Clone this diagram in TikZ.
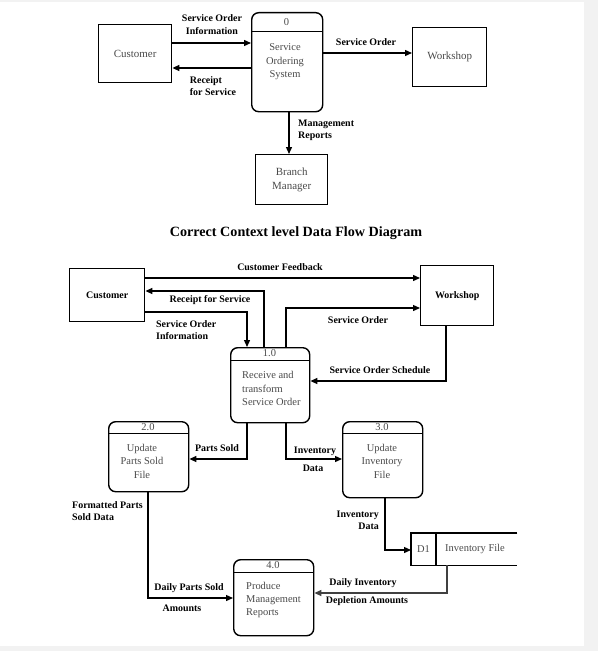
\documentclass[tikz,border=0pt]{standalone}
\usepackage{fontspec}
\setmainfont{Liberation Serif}
\usetikzlibrary{arrows.meta}
\definecolor{bgray}{HTML}{F2F2F2}
\definecolor{tgray}{HTML}{4A4A4A}
\tikzset{
  ent/.style={draw, line width=1.4bp, inner sep=0pt, anchor=north west, align=center},
  entt/.style={ent, text=tgray, font=\fontsize{11}{13.5}\selectfont},
  entb/.style={ent, font=\bfseries\fontsize{10}{12}\selectfont},
  proc/.style={draw, line width=1.4bp, rounded corners=7bp, inner sep=0pt, anchor=north west},
  divl/.style={line width=0.9bp},
  num/.style={inner sep=0pt, font=\fontsize{10.5}{12}\selectfont, text=tgray},
  ptext/.style={inner sep=0pt, font=\fontsize{10.5}{13.5}\selectfont, text=tgray},
  lbl/.style={inner sep=0pt, font=\bfseries\fontsize{10}{12.5}\selectfont, align=center},
  flow/.style={line width=1.3bp, -{Triangle[length=7bp,width=6bp]}},
}
\begin{document}
\begin{tikzpicture}[x=1bp,y=-1bp]
\fill[bgray] (0,0) rectangle (598,651);
\fill[white] (0,2) rectangle (584,646);
\useasboundingbox (0,0) rectangle (598,651);

% ---------- Context diagram ----------
\node[entt, minimum width=73bp, minimum height=58bp] (c1) at (98,24) {Customer};
\node[proc, minimum width=71bp, minimum height=99bp] (p0) at (251,12) {};
\draw[divl] ([yshift=-19bp]p0.north west) -- ([yshift=-19bp]p0.north east);
\node[num] (p0n) at (286.5,22) {0};
\node[ptext, align=center] (p0t) at (285,62) {Service\\Ordering\\System};
\node[entt, minimum width=74bp, minimum height=59bp] (w1) at (412,27) {Workshop};
\node[entt, minimum width=72bp, minimum height=50bp] (bm) at (255,154) {Branch\\Manager};

\draw[flow] (c1.east |- 0,43) -- (p0.west |- 0,43);
\draw[flow] (p0.west |- 0,68) -- (c1.east |- 0,68);
\draw[flow] (p0.east |- 0,53) -- (w1.west |- 0,53);
\draw[flow] (p0.south -| 289,0) -- (bm.north -| 289,0);

\node[lbl] (l1) at (212,24.5) {Service Order\\Information};
\node[lbl, align=left] (l2) at (213,86) {Receipt\\for Service};
\node[lbl] (l3) at (366,42) {Service Order};
\node[lbl, align=left, anchor=west] (l4) at (298,130.5) {Management\\Reports};

\node[inner sep=0pt, font=\bfseries\fontsize{14.2}{16}\selectfont] (title) at (296,233) {Correct Context level Data Flow Diagram};

% ---------- Level 1 diagram ----------
\node[entb, minimum width=75bp, minimum height=53bp] (c2) at (69,268) {Customer};
\node[entb, minimum width=73bp, minimum height=60bp] (w2) at (420,265) {Workshop};

\node[proc, minimum width=79bp, minimum height=75bp] (p1) at (230,347) {};
\draw[divl] ([yshift=-13bp]p1.north west) -- ([yshift=-13bp]p1.north east);
\node[num] (p1n) at (269.5,353.5) {1.0};
\node[ptext, align=left, anchor=west] (p1t) at (242,388.5) {Receive and\\transform\\Service Order};

\node[proc, minimum width=80bp, minimum height=70bp] (p2) at (108,421) {};
\draw[divl] ([yshift=-12bp]p2.north west) -- ([yshift=-12bp]p2.north east);
\node[num] (p2n) at (148,427) {2.0};
\node[ptext, align=center] (p2t) at (142,461) {Update\\Parts Sold\\File};

\node[proc, minimum width=80bp, minimum height=76bp] (p3) at (342,421) {};
\draw[divl] ([yshift=-12bp]p3.north west) -- ([yshift=-12bp]p3.north east);
\node[num] (p3n) at (382,427) {3.0};
\node[ptext, align=center] (p3t) at (382,461) {Update\\Inventory\\File};

\node[proc, minimum width=80bp, minimum height=76bp] (p4) at (233,559) {};
\draw[divl] ([yshift=-13bp]p4.north west) -- ([yshift=-13bp]p4.north east);
\node[num] (p4n) at (273,565.5) {4.0};
\node[ptext, align=left, anchor=west] (p4t) at (246,600) {Produce\\Management\\Reports};

% data store
\node[inner sep=0pt, minimum width=106bp, minimum height=32bp, anchor=north west] (d1) at (411,533) {};
\draw[line width=1.4bp] (d1.north east) -- (d1.north west) -- (d1.south west) -- (d1.south east);
\draw[line width=1.2bp] (d1.north west -| 436,0) -- (d1.south west -| 436,0);
\node[num] (d1a) at (423.5,549) {D1};
\node[num] (d1b) at (475,548.5) {Inventory File};

% flows
\draw[flow] (c2.east |- 0,278) -- (w2.west |- 0,278);
\draw[flow] (p1.north -| 264,0) |- (c2.east |- 0,291);
\draw[flow] (c2.east |- 0,312) -| (p1.north -| 247,0);
\draw[flow] (p1.north -| 286,0) |- (w2.west |- 0,308);
\draw[flow] (w2.south -| 446,0) |- (p1.east |- 0,381);
\draw[flow] (p1.south -| 247,0) |- (p2.east |- 0,459);
\draw[flow] (p1.south -| 286,0) |- (p3.west |- 0,459);
\draw[flow] (p3.south -| 385,0) |- (d1.west |- 0,550);
\draw[flow] (p2.south -| 148,0) |- (p4.west |- 0,598);
\draw[flow, draw=black!75] (d1.south -| 447,0) |- (p4.east |- 0,593);

% labels
\node[lbl] (m1) at (280,267) {Customer Feedback};
\node[lbl] (m2) at (210,300) {Receipt for Service};
\node[lbl, align=left, anchor=west] (m3) at (156,330) {Service Order\\Information};
\node[lbl] (m4) at (358,320) {Service Order};
\node[lbl] (m5) at (380,370) {Service Order Schedule};
\node[lbl] (m6) at (217,448) {Parts Sold};
\node[lbl] (m7) at (315,451) {Inventory};
\node[lbl] (m8) at (313,468) {Data};
\node[lbl, align=right, anchor=east] (m9) at (379,520.5) {Inventory\\Data};
\node[lbl, align=left, anchor=west] (m10) at (72,511) {Formatted Parts\\Sold Data};
\node[lbl] (m11) at (189,588) {Daily Parts Sold};
\node[lbl] (m12) at (182,608) {Amounts};
\node[lbl] (m13) at (363,583) {Daily Inventory};
\node[lbl] (m14) at (367,601) {Depletion Amounts};
\end{tikzpicture}
\end{document}
